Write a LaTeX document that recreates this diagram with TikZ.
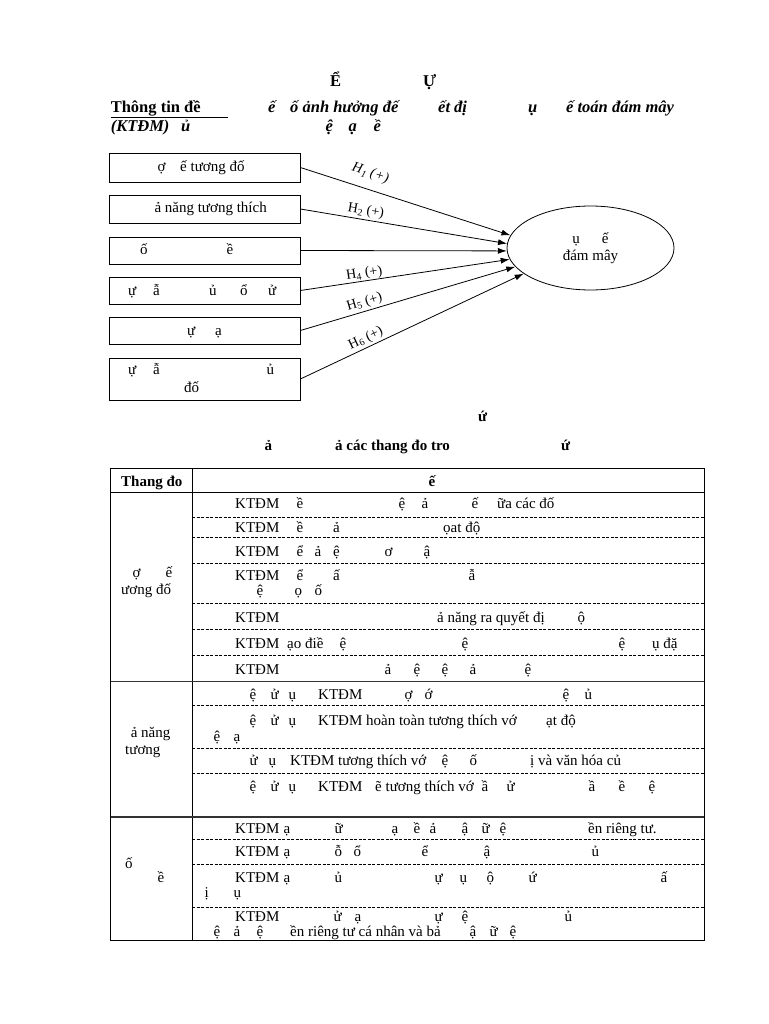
\documentclass[tikz,border=0pt]{standalone}
\usepackage{fontspec}
\setmainfont{Liberation Serif}
\usetikzlibrary{arrows.meta,shapes.geometric}
\newcommand\fs{\fontsize{15}{17}\selectfont}
\newcommand\hfs{\fontsize{16.5}{19}\selectfont\bfseries}
\newcommand\lfs{\fontsize{14}{16}\selectfont}
\begin{document}
\begin{tikzpicture}[x=1pt, y=-1pt,
	frag/.style = { anchor=base west, inner sep=0pt, font=\fs },
	headfrag/.style = { frag, font=\hfs },
	headit/.style = { frag, font=\hfs\itshape },
	boldfrag/.style = { frag, font=\fs\bfseries },
	factor/.style = { draw, line width=0.8pt, minimum width=191pt, inner sep=0pt },
	hyp/.style = { -{Latex[length=9pt,width=6pt]}, line width=0.8pt },
	hlabel/.style = { pos=.31, above, sloped, inner sep=2pt, font=\lfs },
	rowsep/.style = { dash pattern=on 3pt off 1.5pt, line width=0.6pt },
	grid/.style = { line width=0.9pt }]
	\useasboundingbox (0,0) rectangle (768,1024);

	\node[headfrag] (t1) at (330,87) {Ể};
	\node[headfrag] (t2) at (423,87) {Ự};
	\node[headfrag] (h0) at (110.6,113) {Thông tin đề};
	\draw[line width=1.2pt] (110.6,117.5) -- (228,117.5);
	\foreach \x/\t [count=\i] in {268/ế, 290/ố ảnh hưởng đế, 438/ết đị, 528/ụ, 566/ế toán đám mây}
		\node[headit] (h1-\i) at (\x,113) {\t};
	\foreach \x/\t [count=\i] in {110.6/(KTĐM), 181/ủ, 325.5/ệ, 348.5/ạ, 373.5/ề}
		\node[headit] (h2-\i) at (\x,132) {\t};

	\node[factor, minimum height=29pt] (b1) at (204.5,167.5) {};
	\node[factor, minimum height=28pt] (b2) at (204.5,209) {};
	\node[factor, minimum height=27pt] (b3) at (204.5,250.5) {};
	\node[factor, minimum height=27pt] (b4) at (204.5,290.5) {};
	\node[factor, minimum height=27pt] (b5) at (204.5,330.5) {};
	\node[factor, minimum height=42pt] (b6) at (204.5,379) {};
	\node[draw, ellipse, line width=0.8pt, minimum width=167pt, minimum height=84pt,
		inner sep=0pt, align=center, font=\fs] (adopt) at (590.5,248)
		{ụ\hspace{22pt}ế\hspace{12pt}\\đám mây};

	\foreach \x/\t [count=\i] in {157.5/ợ, 180/ế tương đố}
		\node[frag] (f1-\i) at (\x,171.5) {\t};
	\node[frag] (f2-1) at (154.3,213) {ả năng tương thích};
	\foreach \x/\t [count=\i] in {140/ố, 226.5/ề}
		\node[frag] (f3-\i) at (\x,254) {\t};
	\foreach \x/\t [count=\i] in {128/ự, 153/ẫ, 209/ủ, 240/ổ, 268/ử}
		\node[frag] (f4-\i) at (\x,295) {\t};
	\foreach \x/\t [count=\i] in {187/ự, 215/ạ}
		\node[frag] (f5-\i) at (\x,335) {\t};
	\foreach \x/\t [count=\i] in {128/ự, 153/ẫ, 266.5/ủ}
		\node[frag] (f6-\i) at (\x,374) {\t};
	\node[frag] (f6-4) at (184,392.5) {đố};

	\draw[hyp] (b1.east) -- (adopt.171) node[hlabel, above=7pt] {\itshape H\textsubscript{1} (+)};
	\draw[hyp] (b2.east) -- (adopt.177) node[hlabel] {H\textsubscript{2} (+)};
	\draw[hyp] (b3.east) -- (adopt.182);
	\draw[hyp] (b4.east) -- (adopt.188) node[hlabel, inner sep=0.5pt] {H\textsubscript{4} (+)};
	\draw[hyp] (b5.east) -- (adopt.194) node[hlabel] {H\textsubscript{5} (+)};
	\draw[hyp] (b6.east) -- (adopt.201) node[hlabel] {H\textsubscript{6} (+)};

	\node[boldfrag] (s1) at (478,421) {ứ};
	\foreach \x/\t [count=\i] in {264.5/ả, 335/ả các thang đo tro, 561/ứ}
		\node[boldfrag] (s2-\i) at (\x,450) {\t};

	\draw[grid] (110.5,468) rectangle (704,940);
	\draw[grid] (192,468) -- (192,940);
	\draw[grid] (110.5,492.5) -- (704,492.5);
	\foreach \y in {681.5,817}
		\draw[line width=1.1pt, black!80] (110.5,\y) -- (704,\y);
	\foreach \y in {517.5,537.5,563,603.5,629,655,705,748,773,839,864,907}
		\draw[rowsep] (192,\y) -- (704,\y);

	\node[boldfrag] (th1) at (121,486) {Thang đo};
	\node[boldfrag] (th2) at (428.5,486) {ế};

	\foreach \x/\t [count=\i] in {132.5/ợ, 165.5/ế}
		\node[frag] (g1a-\i) at (\x,577) {\t};
	\node[frag] (g1b) at (121,594) {ương đố};
	\node[frag] (g2a) at (130.6,737) {ả năng};
	\node[frag] (g2b) at (125,754) {tương};
	\node[frag] (g3a) at (125,868) {ố};
	\node[frag] (g3b) at (157.5,882) {ề};

	\foreach \x/\t [count=\i] in {235/KTĐM, 296.5/ề, 398.5/ệ, 421.5/ả, 471.5/ế, 497/ữa các đố}
		\node[frag] (r1-\i) at (\x,508) {\t};
	\foreach \x/\t [count=\i] in {235/KTĐM, 296.5/ề, 333/ả, 443/ọat độ}
		\node[frag] (r2-\i) at (\x,532) {\t};
	\foreach \x/\t [count=\i] in {235/KTĐM, 296.5/ể, 314.5/ả, 333/ệ, 384.5/ơ, 423.5/ậ}
		\node[frag] (r3-\i) at (\x,556) {\t};
	\foreach \x/\t [count=\i] in {235/KTĐM, 296.5/ể, 333/ấ, 468.5/ẫ}
		\node[frag] (r4-\i) at (\x,580) {\t};
	\foreach \x/\t [count=\i] in {256.5/ệ, 294.5/ọ, 314.5/ố}
		\node[frag] (r4b-\i) at (\x,595) {\t};
	\foreach \x/\t [count=\i] in {235/KTĐM, 437/ả năng ra quyết đị, 577.5/ộ}
		\node[frag] (r5-\i) at (\x,622) {\t};
	\foreach \x/\t [count=\i] in {235/KTĐM, 287/ạo điề, 339.5/ệ, 461.5/ệ, 618.5/ệ, 652/ụ đặ}
		\node[frag] (r6-\i) at (\x,648) {\t};
	\foreach \x/\t [count=\i] in {235/KTĐM, 384.5/ả, 413.5/ệ, 441.5/ệ, 469.5/ả, 524.5/ệ}
		\node[frag] (r7-\i) at (\x,674) {\t};

	\foreach \x/\t [count=\i] in {249.5/ệ, 270.5/ử, 288.5/ụ, 318/KTĐM, 404.5/ợ, 424.5/ớ, 562.5/ệ, 584.5/ủ}
		\node[frag] (c1-\i) at (\x,699) {\t};
	\foreach \x/\t [count=\i] in {249.5/ệ, 270.5/ử, 288.5/ụ, 318/KTĐM hoàn toàn tương thích vớ, 546/ạt độ}
		\node[frag] (c2-\i) at (\x,725) {\t};
	\foreach \x/\t [count=\i] in {213.5/ệ, 233.5/ạ}
		\node[frag] (c2b-\i) at (\x,741) {\t};
	\foreach \x/\t [count=\i] in {249.5/ử, 268.5/ụ, 290/KTĐM tương thích vớ, 441.5/ệ, 469.5/ố, 530/ị và văn hóa củ}
		\node[frag] (c3-\i) at (\x,765) {\t};
	\foreach \x/\t [count=\i] in {249.5/ệ, 270.5/ử, 288.5/ụ, 318/KTĐM, 375/ẽ tương thích vớ, 481.5/ầ, 506.5/ử, 588.5/ầ, 618.5/ề, 648.5/ệ}
		\node[frag] (c4-\i) at (\x,791) {\t};

	\foreach \x/\t [count=\i] in {235/KTĐM, 283.5/ạ, 334.5/ữ, 391.5/ạ, 413.5/ề, 429.5/ả, 461.5/ậ, 481.5/ữ, 499.5/ệ, 588/ền riêng tư.}
		\node[frag] (p1-\i) at (\x,833) {\t};
	\foreach \x/\t [count=\i] in {235/KTĐM, 283.5/ạ, 334.5/ỗ, 353.5/ổ, 421.5/ể, 483.5/ậ, 591.5/ủ}
		\node[frag] (p2-\i) at (\x,856) {\t};
	\foreach \x/\t [count=\i] in {235/KTĐM, 283.5/ạ, 334.5/ủ, 434.5/ự, 459.5/ụ, 486.5/ộ, 528.5/ứ, 660.5/ấ}
		\node[frag] (p3-\i) at (\x,882) {\t};
	\foreach \x/\t [count=\i] in {204.5/ị, 233.5/ụ}
		\node[frag] (p3b-\i) at (\x,897) {\t};
	\foreach \x/\t [count=\i] in {235/KTĐM, 333.5/ử, 354.5/ạ, 434.5/ự, 461.5/ệ, 564.5/ủ}
		\node[frag] (p4-\i) at (\x,921) {\t};
	\foreach \x/\t [count=\i] in {213.5/ệ, 233.5/ả, 256.5/ệ, 290/ền riêng tư cá nhân và bả, 469.5/ậ, 489.5/ữ, 509.5/ệ}
		\node[frag] (p4b-\i) at (\x,936) {\t};
\end{tikzpicture}
\end{document}
